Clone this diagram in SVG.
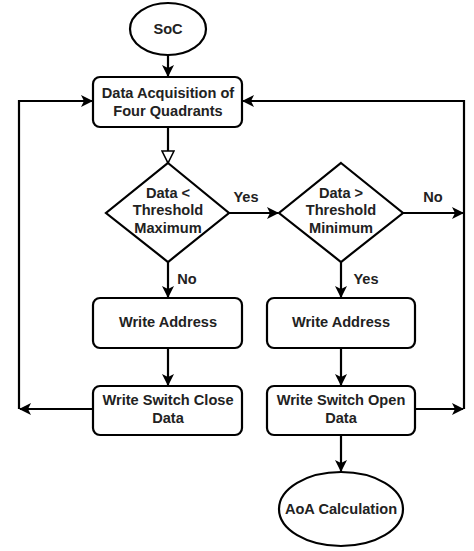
<svg xmlns="http://www.w3.org/2000/svg" width="474" height="551" viewBox="0 0 474 551">
<defs>
<marker id="ah" viewBox="0 0 12 12" refX="11" refY="6" markerWidth="12" markerHeight="12" markerUnits="userSpaceOnUse" orient="auto">
<path d="M0,0 L12,6 L0,12 L3,6 Z" fill="#000"/>
</marker>
<marker id="oh" viewBox="0 0 14 14" refX="13" refY="7" markerWidth="14" markerHeight="14" markerUnits="userSpaceOnUse" orient="auto">
<path d="M1,1 L13,7 L1,13 Z" fill="#fff" stroke="#000" stroke-width="1.6"/>
</marker>
</defs>
<style>
.n{fill:#fff;stroke:#000;stroke-width:2.2}
.t{font-family:"Liberation Sans",Arial,sans-serif;font-size:14.6px;font-weight:bold;fill:#222;text-anchor:middle}
.c{fill:none;stroke:#000;stroke-width:2.2}
</style>
<rect width="474" height="551" fill="#fff"/>
<g id="connectors">
<path class="c" d="M168,55 V76" marker-end="url(#ah)"/>
<path class="c" d="M168,127 V163" marker-end="url(#oh)"/>
<path class="c" d="M229,213 H278" marker-end="url(#ah)"/>
<path class="c" d="M403,213 H463" marker-end="url(#ah)"/>
<path class="c" d="M168,262 V297" marker-end="url(#ah)"/>
<path class="c" d="M341,262 V297" marker-end="url(#ah)"/>
<path class="c" d="M168,348 V385" marker-end="url(#ah)"/>
<path class="c" d="M341,348 V385" marker-end="url(#ah)"/>
<path class="c" d="M93,409 H20" marker-end="url(#ah)"/>
<path class="c" d="M415,409 H463" marker-end="url(#ah)"/>
<path class="c" d="M19,409 V101 H92" marker-end="url(#ah)"/>
<path class="c" d="M464,409 V101 H243" marker-end="url(#ah)"/>
<path class="c" d="M341,435 V471" marker-end="url(#ah)"/>
<text class="t" x="246" y="202">Yes</text>
<text class="t" x="433" y="202">No</text>
<text class="t" x="187" y="284">No</text>
<text class="t" x="366" y="284">Yes</text>
</g>
<g id="soc">
<ellipse class="n" cx="168" cy="29" rx="38" ry="26"/>
<text class="t" x="168" y="34">SoC</text>
</g>
<g id="acq">
<rect class="n" x="93" y="77" width="149" height="50" rx="7"/>
<text class="t" x="168" y="98">Data Acquisition of</text>
<text class="t" x="168" y="116">Four Quadrants</text>
</g>
<g id="dec1">
<polygon class="n" points="168,163 229,213 168,262 106,213"/>
<text class="t" x="168" y="198">Data &lt;</text>
<text class="t" x="168" y="215">Threshold</text>
<text class="t" x="168" y="233">Maximum</text>
</g>
<g id="dec2">
<polygon class="n" points="341,163 403,213 341,262 279,213"/>
<text class="t" x="341" y="198">Data &gt;</text>
<text class="t" x="341" y="215">Threshold</text>
<text class="t" x="341" y="233">Minimum</text>
</g>
<g id="wa1">
<rect class="n" x="93" y="298" width="149" height="50" rx="7"/>
<text class="t" x="168" y="327">Write Address</text>
</g>
<g id="wa2">
<rect class="n" x="267" y="298" width="148" height="50" rx="7"/>
<text class="t" x="341" y="327">Write Address</text>
</g>
<g id="wsc">
<rect class="n" x="93" y="386" width="149" height="49" rx="7"/>
<text class="t" x="168" y="405">Write Switch Close</text>
<text class="t" x="168" y="423">Data</text>
</g>
<g id="wso">
<rect class="n" x="267" y="386" width="148" height="49" rx="7"/>
<text class="t" x="341" y="405">Write Switch Open</text>
<text class="t" x="341" y="423">Data</text>
</g>
<g id="aoa">
<ellipse class="n" cx="341" cy="509" rx="62" ry="37"/>
<text class="t" x="341" y="514">AoA Calculation</text>
</g>
</svg>
